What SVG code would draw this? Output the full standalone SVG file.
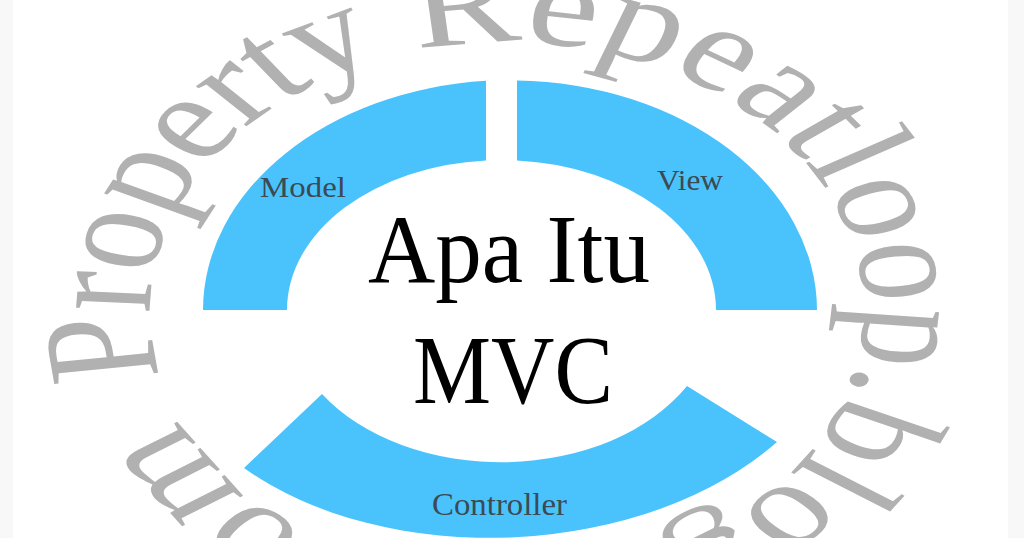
<svg xmlns="http://www.w3.org/2000/svg" xmlns:xlink="http://www.w3.org/1999/xlink" width="1024" height="538" viewBox="0 0 1024 538">
  <style>
    .seg { fill: #4ac3fd; }
    .lbl { font-family: "Liberation Serif", "Times New Roman", serif; fill: #3c4a53; font-size: 29px; }
    .title { font-family: "Liberation Serif", "Times New Roman", serif; fill: #000; font-size: 98px; }
    .wm { font-family: "Liberation Serif", "Times New Roman", serif; fill: #b1b1b1; font-size: 160px; }
  </style>
  <defs>
    <path id="wmPath" d="M 165.6 517.7 A 357 357 0 1 1 848.4 308.9 A 357 357 0 1 1 165.6 517.7"/>
  </defs>
  <rect x="0" y="0" width="1024" height="538" fill="#ffffff"/>
  <rect x="0" y="0" width="13" height="538" fill="#f8f8f8"/>
  <rect x="1008" y="0" width="16" height="538" fill="#f8f8f8"/>

  <g id="watermark" transform="scale(1,0.75)">
    <text class="wm"><textPath xlink:href="#wmPath" href="#wmPath" startOffset="16"><tspan letter-spacing="-3.5">Property </tspan><tspan letter-spacing="-0.5">Repeatloop.blogspot.com</tspan></textPath></text>
  </g>

  <g id="node-model">
    <path class="seg" d="M 203 310 A 308 230 0 0 1 486 80.8 L 486 160.4 A 214.5 150 0 0 0 287 310 Z"/>
    <text class="lbl" x="260" y="197" textLength="86" lengthAdjust="spacingAndGlyphs">Model</text>
  </g>

  <g id="node-view">
    <path class="seg" d="M 517 80.5 A 306 230 0 0 1 817 310 L 716 310 A 214.5 150 0 0 0 517 160.4 Z"/>
    <text class="lbl" x="657" y="190" textLength="66" lengthAdjust="spacingAndGlyphs">View</text>
  </g>

  <g id="node-controller">
    <path class="seg" d="M 322 394 A 214.5 152 0 0 0 687 386 L 777 442 A 345 225 -2.5 0 1 244 468 Z"/>
    <text class="lbl" x="432" y="515" style="font-size:31px" textLength="135" lengthAdjust="spacingAndGlyphs">Controller</text>
  </g>

  <g id="connectors"></g>

  <g id="title">
    <text class="title" x="368" y="282" textLength="282" lengthAdjust="spacingAndGlyphs">Apa Itu</text>
    <text class="title" x="413" y="403" textLength="200" lengthAdjust="spacingAndGlyphs">MVC</text>
  </g>
</svg>
